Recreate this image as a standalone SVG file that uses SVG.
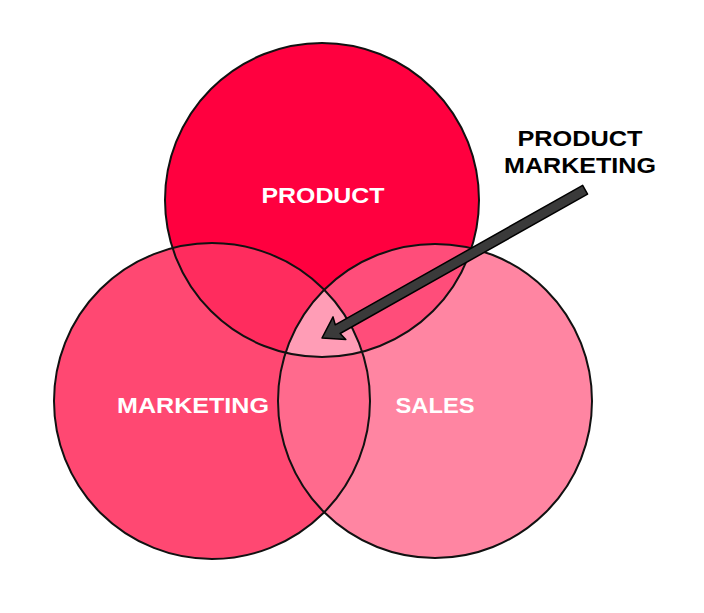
<svg xmlns="http://www.w3.org/2000/svg" width="704" height="613" viewBox="0 0 704 613">
<style>
.lbl{font-family:"Liberation Sans",Arial,sans-serif;font-weight:700;font-size:22px;text-anchor:middle}
.w{fill:#ffffff}
.b{fill:#000000}
.edge{fill:none;stroke:#111;stroke-width:2}
</style>
<defs>
<clipPath id="cP"><circle cx="322" cy="200" r="157"/></clipPath>
<clipPath id="cM"><circle cx="212" cy="401" r="158"/></clipPath>
<clipPath id="cS"><circle cx="435" cy="401" r="157"/></clipPath>
</defs>
<rect width="704" height="613" fill="#ffffff"/>
<g id="marketing">
<circle cx="212" cy="401" r="158" fill="#FF4872"/>
</g>
<g id="sales">
<circle cx="435" cy="401" r="157" fill="#FF85A2"/>
</g>
<g id="product">
<circle cx="322" cy="200" r="157" fill="#FF003F"/>
</g>
<g id="overlaps">
<circle cx="212" cy="401" r="158" fill="#FF2C5E" clip-path="url(#cP)"/>
<circle cx="435" cy="401" r="157" fill="#FF4D7A" clip-path="url(#cP)"/>
<g clip-path="url(#cM)"><circle cx="435" cy="401" r="157" fill="#FF6A8D"/></g>
<g clip-path="url(#cM)"><circle cx="435" cy="401" r="157" fill="#FF9DB6" clip-path="url(#cP)"/></g>
</g>
<g id="outlines">
<circle class="edge" cx="322" cy="200" r="157"/>
<circle class="edge" cx="212" cy="401" r="158"/>
<circle class="edge" cx="435" cy="401" r="157"/>
</g>
<g id="labels">
<text class="lbl w" x="323" y="203" textLength="123" lengthAdjust="spacingAndGlyphs">PRODUCT</text>
<text class="lbl w" x="193" y="413" textLength="152" lengthAdjust="spacingAndGlyphs">MARKETING</text>
<text class="lbl w" x="435" y="413" textLength="79" lengthAdjust="spacingAndGlyphs">SALES</text>
</g>
<g id="callout">
<text class="lbl b" x="580" y="146" textLength="125" lengthAdjust="spacingAndGlyphs">PRODUCT</text>
<text class="lbl b" x="580" y="173" textLength="152" lengthAdjust="spacingAndGlyphs">MARKETING</text>
</g>
<g id="connectors">
<g transform="translate(322,338) rotate(-29.4)">
<polygon points="0,0 20,-13 18,-5 302,-5 302,5 18,5 20,13" fill="#3A3A3A" stroke="#000" stroke-width="1.5" stroke-linejoin="round"/>
</g>
</g>
</svg>
